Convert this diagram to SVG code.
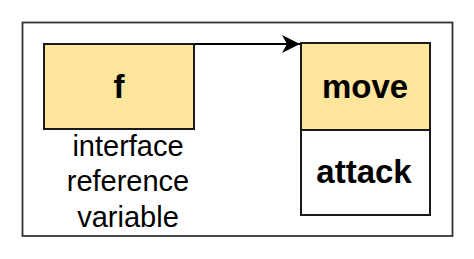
<svg xmlns="http://www.w3.org/2000/svg" width="474" height="259" viewBox="0 0 474 259">
<style>
.box{stroke:#1a1a1a;stroke-width:2}
.y{fill:#fee59c}
.w{fill:#ffffff}
.b{font-family:"Liberation Sans",Arial,sans-serif;font-weight:bold;font-size:33px;fill:#000;text-anchor:middle}
.n{font-family:"Liberation Sans",Arial,sans-serif;font-size:29px;fill:#000;text-anchor:middle}
</style>
<defs>
<marker id="arr" markerUnits="userSpaceOnUse" markerWidth="20" markerHeight="20" refX="19" refY="10" orient="auto">
<path d="M1,1 L19,10 L1,19 L6,10 Z" fill="#000"/>
</marker>
</defs>
<rect x="0" y="0" width="474" height="259" fill="#ffffff"/>
<g id="outer">
<rect x="22.5" y="22.5" width="430" height="213.5" fill="none" stroke="#333" stroke-width="1.8"/>
</g>
<g id="connectors">
<line x1="194" y1="44" x2="300" y2="44" stroke="#000" stroke-width="2" marker-end="url(#arr)"/>
</g>
<g id="node-f">
<rect class="box y" x="44" y="44" width="150" height="85"/>
<text class="b" x="119" y="98">f</text>
</g>
<g id="label-f">
<text class="n" x="128" y="156">interface</text>
<text class="n" x="128" y="191">reference</text>
<text class="n" x="128" y="226.5">variable</text>
</g>
<g id="node-move">
<rect class="box y" x="301" y="43" width="129" height="87"/>
<text class="b" x="365" y="97.5">move</text>
</g>
<g id="node-attack">
<rect class="box w" x="301" y="130" width="129" height="85"/>
<text class="b" x="364" y="182.5">attack</text>
</g>
</svg>
